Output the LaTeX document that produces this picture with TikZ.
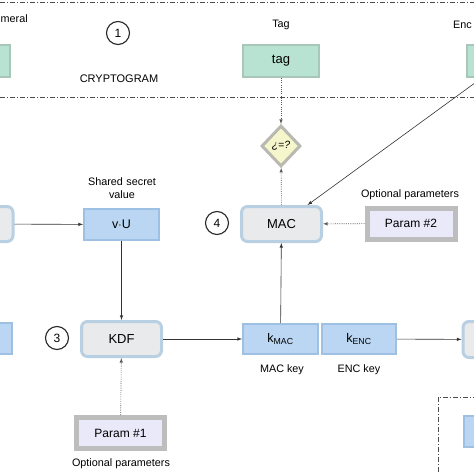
\documentclass[tikz,border=0pt]{standalone}
\usepackage{fontspec}
\setmainfont{Liberation Sans}
\usetikzlibrary{shapes.geometric}

\definecolor{mint}{HTML}{B8E2D2}
\definecolor{mintedge}{HTML}{A9C6BB}
\definecolor{keyblue}{HTML}{BAD6F2}
\definecolor{keyedge}{HTML}{9EC0E2}
\definecolor{funcgrey}{HTML}{E9EAEC}
\definecolor{funcedge}{HTML}{B9D0E2}
\definecolor{paramfill}{HTML}{E9E9FA}
\definecolor{paramedge}{HTML}{BDBDBD}
\definecolor{cmpfill}{HTML}{F6F6CC}
\definecolor{cmpedge}{HTML}{B9B9B1}

\begin{document}
\begin{tikzpicture}[x=1pt, y=-1pt, text centered]
    \tikzstyle{every node} = [inner sep=0pt]
    \tikzstyle{cipher} = [rectangle, fill=mint, draw=mintedge, line width=2pt, minimum width=76pt, minimum height=32pt, font=\fontsize{13}{15}\selectfont]
    \tikzstyle{keybox} = [rectangle, fill=keyblue, draw=keyedge, line width=2pt, minimum width=75pt, minimum height=31pt, font=\fontsize{12.5}{14}\selectfont]
    \tikzstyle{func} = [rectangle, rounded corners=6pt, fill=funcgrey, draw=funcedge, line width=3pt, minimum width=80pt, minimum height=35pt, font=\fontsize{13}{15}\selectfont]
    \tikzstyle{param} = [rectangle, fill=paramfill, draw=paramedge, line width=5pt, minimum width=88pt, minimum height=31pt, font=\fontsize{12}{14}\selectfont]
    \tikzstyle{cmp} = [diamond, fill=cmpfill, draw=cmpedge, line width=3pt, minimum width=39pt, minimum height=41pt, font=\fontsize{10.5}{12}\itshape]
    \tikzstyle{num} = [circle, draw=black!85, line width=1.1pt, minimum size=23pt, font=\fontsize{12}{14}\selectfont]
    \tikzstyle{lbl} = [font=\fontsize{10.8}{12.5}\selectfont]
    \tikzstyle{flow} = [draw=black!80, line width=0.6pt, -latex]
    \tikzstyle{opt} = [flow, draw=black!65, dash pattern=on 1pt off 1.2pt]
    \tikzstyle{dashdot} = [draw=black!70, line width=0.6pt, dash pattern=on 5pt off 2pt on 1pt off 2pt]

    \useasboundingbox (0, 0) rectangle (474, 474);
    \clip (0, 0) rectangle (474, 474);

    % cryptogram strip
    \draw [dashdot] (0, 2) -- (474, 2);
    \draw [dashdot] (0, 97) -- (474, 97);

    \node (p) [lbl, anchor=west] at (0.5, 19) {meral};
    \node (q) [lbl] at (281, 25) {Tag};
    \node (r) [lbl, anchor=west] at (453, 25) {Enc};
    \node (s) [lbl, font=\fontsize{11}{13}\selectfont] at (119, 79) {CRYPTOGRAM};
    \node (c1) [num] at (118, 33) {1};

    \node (a) [cipher] at (-28, 61) {};
    \node (b) [cipher] at (281, 61) {tag};
    \node (c) [cipher] at (505, 61) {};

    % tag check and MAC
    \node (d) [cmp] at (281, 146) {¿=?};
    \node (e) [func] at (281.5, 224) {MAC};
    \node (c4) [num] at (217, 223) {4};
    \node (f) [param] at (411, 223.5) {Param \#2};
    \node (t) [lbl] at (410, 195) {Optional parameters};

    % shared secret and KDF
    \node (g) [func] at (-27, 224) {};
    \node (h) [keybox] at (121.5, 224.5) {v$\cdot$U};
    \node (u) [lbl, text width=3cm] at (122, 188) {Shared secret \\ value};

    \node (i) [func] at (121.5, 339) {KDF};
    \node (c3) [num] at (57, 338) {3};
    \node (j) [keybox] at (-26, 338.5) {};
    \node (k) [param] at (120.5, 433) {Param \#1};
    \node (x) [lbl] at (121, 464) {Optional parameters};

    % derived keys
    \node (l) [keybox, minimum height=30pt] at (280.5, 339) {k\textsubscript{MAC}};
    \node (m) [keybox, minimum height=30pt, minimum width=74pt] at (359, 339) {k\textsubscript{ENC}};
    \node (v) [lbl] at (282, 370) {MAC key};
    \node (w) [lbl] at (359, 370) {ENC key};
    \node (n) [func, minimum height=36pt] at (503, 339.5) {};

    \draw [dashdot] (438, 397) rectangle (530, 530);
    \node (o) [keybox] at (501, 431.5) {};

    \draw [opt] (b) -- (d);
    \draw [opt] (e) -- (d);
    \draw [flow] (c) -- (e);
    \draw [opt] (f) -- (e);

    \draw [flow] (g) -- (h);
    \draw [flow] (h) -- (i);
    \draw [opt] (k) -- (i);

    \draw [flow] (i) -- (l);
    \draw [flow] (l) -- (e);
    \draw [flow] (m) -- (n);
\end{tikzpicture}
\end{document}
